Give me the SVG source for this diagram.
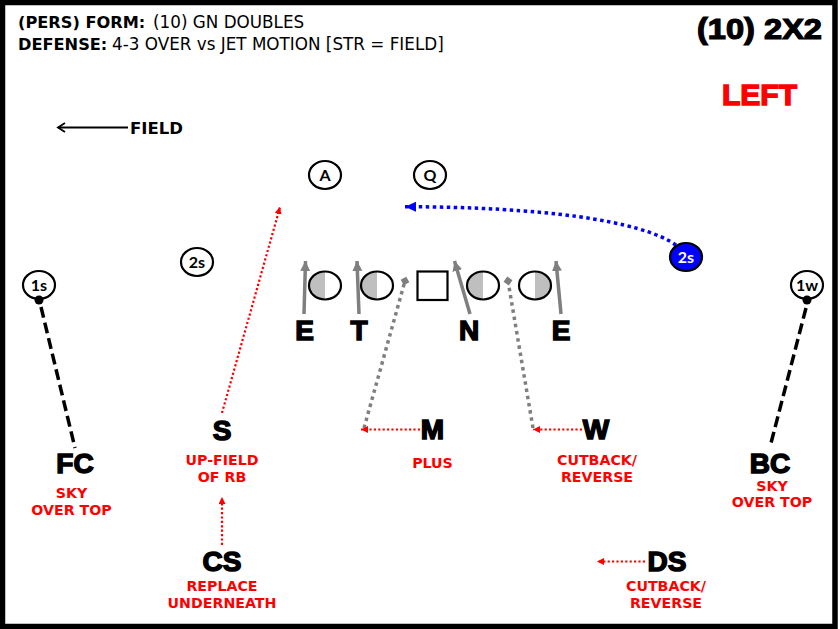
<svg xmlns="http://www.w3.org/2000/svg" width="840" height="629" viewBox="0 0 840 629">
<style>
text{font-family:"DejaVu Sans",Verdana,sans-serif}
.hd{font-size:16.800px;fill:#000}
.b{font-weight:700;font-size:16.200px}
.big{font-family:"Liberation Sans",Arial,sans-serif;font-weight:700;font-size:28px;fill:#000;stroke:#000;stroke-width:1.500px;text-anchor:middle}
.red{font-weight:700;font-size:14.200px;fill:#f00;text-anchor:middle}
.pl{fill:#fff;stroke:#000;stroke-width:2.200px}
.pt{font-family:Lato,"Open Sans",sans-serif;font-weight:700;font-size:16px;fill:#000;text-anchor:middle}
.gr{fill:none;stroke:#7f7f7f;stroke-width:3.500px}
.gd{fill:none;stroke:#7f7f7f;stroke-width:3.500px;stroke-dasharray:3.500 3.800}
.rd{fill:none;stroke:#f00;stroke-width:2.200px;stroke-dasharray:2.200 2.200}
.bk{fill:none;stroke:#000;stroke-width:3.500px;stroke-dasharray:11 5}
</style>
<defs>
<marker id="ag" markerUnits="userSpaceOnUse" markerWidth="10" markerHeight="11" refX="10" refY="5" orient="auto"><path d="M0,0L10,5L0,10Z" fill="#7f7f7f"/></marker>
<marker id="ar" markerUnits="userSpaceOnUse" markerWidth="8" markerHeight="8" refX="7" refY="3.500" orient="auto"><path d="M0,0L7,3.500L0,7Z" fill="#f00"/></marker>
<marker id="ab" markerUnits="userSpaceOnUse" markerWidth="12" markerHeight="11" refX="11" refY="5" orient="auto"><path d="M0,0L11,5L0,10Z" fill="#00f"/></marker>
<marker id="dg" markerUnits="userSpaceOnUse" markerWidth="10" markerHeight="10" refX="5" refY="5" orient="auto"><path d="M5,0.500L9.500,5L5,9.500L0.500,5Z" fill="#7f7f7f"/></marker>
<marker id="ak" markerUnits="userSpaceOnUse" markerWidth="10" markerHeight="11" refX="8" refY="5" orient="auto"><path d="M1,0.500L8,5L1,9.500" fill="none" stroke="#000" stroke-width="1.800"/></marker>
<linearGradient id="hl"><stop offset=".5" stop-color="#bfbfbf"/><stop offset=".5" stop-color="#fff"/></linearGradient>
<linearGradient id="hr"><stop offset=".5" stop-color="#fff"/><stop offset=".5" stop-color="#bfbfbf"/></linearGradient>
</defs>
<rect width="840" height="629" fill="#fff"/>
<rect x="2.500" y="2.500" width="832.500" height="624" fill="none" stroke="#000" stroke-width="5.500"/>

<g id="connectors">
<path d="M128,127.500H58" stroke="#000" stroke-width="1.800" fill="none" marker-end="url(#ak)"/>
<path class="gr" d="M304,314L305.500,261" marker-end="url(#ag)"/>
<path class="gr" d="M359,314L357,261" marker-end="url(#ag)"/>
<path class="gr" d="M470,314L454.500,261" marker-end="url(#ag)"/>
<path class="gr" d="M561,314L556,261" marker-end="url(#ag)"/>
<path class="gd" d="M364,428L405,281" marker-end="url(#dg)"/>
<path class="gd" d="M533,428L508,281" marker-end="url(#dg)"/>
<path class="rd" d="M222,413L280,207" marker-end="url(#ar)"/>
<path class="rd" d="M420,429.500H361" marker-end="url(#ar)"/>
<path class="rd" d="M582,429.500H533" marker-end="url(#ar)"/>
<path class="rd" d="M645,561.500H597" marker-end="url(#ar)"/>
<path class="rd" d="M222,545V497" marker-end="url(#ar)"/>
<path d="M676,245C640,220 540,207 405,206.700" fill="none" stroke="#00f" stroke-width="3.500" stroke-dasharray="3.500 3.500" marker-end="url(#ab)"/>
<path class="bk" d="M41,307L75,448"/>
<path class="bk" d="M806,308L770,447"/>
</g>

<g id="header">
<text class="hd" x="18" y="28"><tspan class="b">(PERS) FORM:</tspan><tspan x="153">(10) GN DOUBLES</tspan></text>
<text class="hd" x="18" y="50"><tspan class="b">DEFENSE:</tspan><tspan x="112">4-3 OVER vs JET MOTION [STR = FIELD]</tspan></text>
<text x="697" y="39" textLength="125" lengthAdjust="spacingAndGlyphs" style="font-family:'Liberation Sans',Arial,sans-serif;font-weight:700;font-size:29px;stroke:#000;stroke-width:1.200px">(10) 2X2</text>
<text x="722" y="105" textLength="75" lengthAdjust="spacingAndGlyphs" style="font-family:'Liberation Sans',Arial,sans-serif;font-weight:700;font-size:29px;fill:#f00;stroke:#f00;stroke-width:1.400px">LEFT</text>
<text x="130" y="134" class="b" style="font-size:16.500px">FIELD</text>
</g>

<g id="off-A"><ellipse class="pl" cx="325" cy="175" rx="16" ry="14"/><text class="pt" x="325" y="180.500">A</text></g>
<g id="off-Q"><ellipse class="pl" cx="430" cy="175" rx="16" ry="14"/><text class="pt" x="430" y="180.500">Q</text></g>
<g id="off-2s-left"><ellipse class="pl" cx="197" cy="262" rx="16" ry="14"/><text class="pt" x="197" y="267.500">2s</text></g>
<g id="off-1s"><ellipse class="pl" cx="39" cy="285" rx="16" ry="14"/><text class="pt" x="39" y="290.500">1s</text><circle cx="39" cy="300" r="4.500" fill="#000"/></g>
<g id="off-1w"><ellipse class="pl" cx="807" cy="285" rx="16" ry="14"/><text class="pt" x="807" y="290.500">1w</text><circle cx="807" cy="300" r="4.500" fill="#000"/></g>
<g id="off-2s-motion"><ellipse cx="686" cy="257" rx="16" ry="14" fill="#00f" stroke="#000" stroke-width="2.200"/><text class="pt" x="686" y="262.500" style="fill:#fff">2s</text></g>
<g id="ol-1"><ellipse cx="325" cy="285.500" rx="16" ry="14" fill="url(#hl)" stroke="#000" stroke-width="2.200"/></g>
<g id="ol-2"><ellipse cx="377" cy="285.500" rx="16" ry="14" fill="url(#hl)" stroke="#000" stroke-width="2.200"/></g>
<g id="ol-c"><rect x="417.500" y="271.500" width="30" height="28.500" fill="#fff" stroke="#000" stroke-width="2.200"/></g>
<g id="ol-4"><ellipse cx="483" cy="285.500" rx="16" ry="14" fill="url(#hl)" stroke="#000" stroke-width="2.200"/></g>
<g id="ol-5"><ellipse cx="535" cy="285.500" rx="16" ry="14" fill="url(#hr)" stroke="#000" stroke-width="2.200"/></g>

<g id="def-E1"><text class="big" x="304.500" y="339.500">E</text></g>
<g id="def-T"><text class="big" x="359" y="339.500">T</text></g>
<g id="def-N"><text class="big" x="469" y="339.500">N</text></g>
<g id="def-E2"><text class="big" x="561" y="339.500">E</text></g>
<g id="def-S"><text class="big" x="222" y="440">S</text><text class="red" x="222" y="465">UP-FIELD</text><text class="red" x="222" y="481.500">OF RB</text></g>
<g id="def-M"><text class="big" x="432.500" y="439">M</text><text class="red" x="432.500" y="467.500">PLUS</text></g>
<g id="def-W"><text class="big" x="596" y="439">W</text><text class="red" x="597" y="465">CUTBACK/</text><text class="red" x="597" y="481.500">REVERSE</text></g>
<g id="def-FC"><text class="big" x="75" y="473">FC</text><text class="red" x="71.500" y="498">SKY</text><text class="red" x="71.500" y="514.500">OVER TOP</text></g>
<g id="def-BC"><text class="big" x="770" y="473">BC</text><text class="red" x="772" y="491">SKY</text><text class="red" x="772" y="507">OVER TOP</text></g>
<g id="def-CS"><text class="big" x="222" y="570.500">CS</text><text class="red" x="222" y="591">REPLACE</text><text class="red" x="222" y="607.500">UNDERNEATH</text></g>
<g id="def-DS"><text class="big" x="667" y="570.500">DS</text><text class="red" x="666" y="591">CUTBACK/</text><text class="red" x="666" y="607.500">REVERSE</text></g>
</svg>
